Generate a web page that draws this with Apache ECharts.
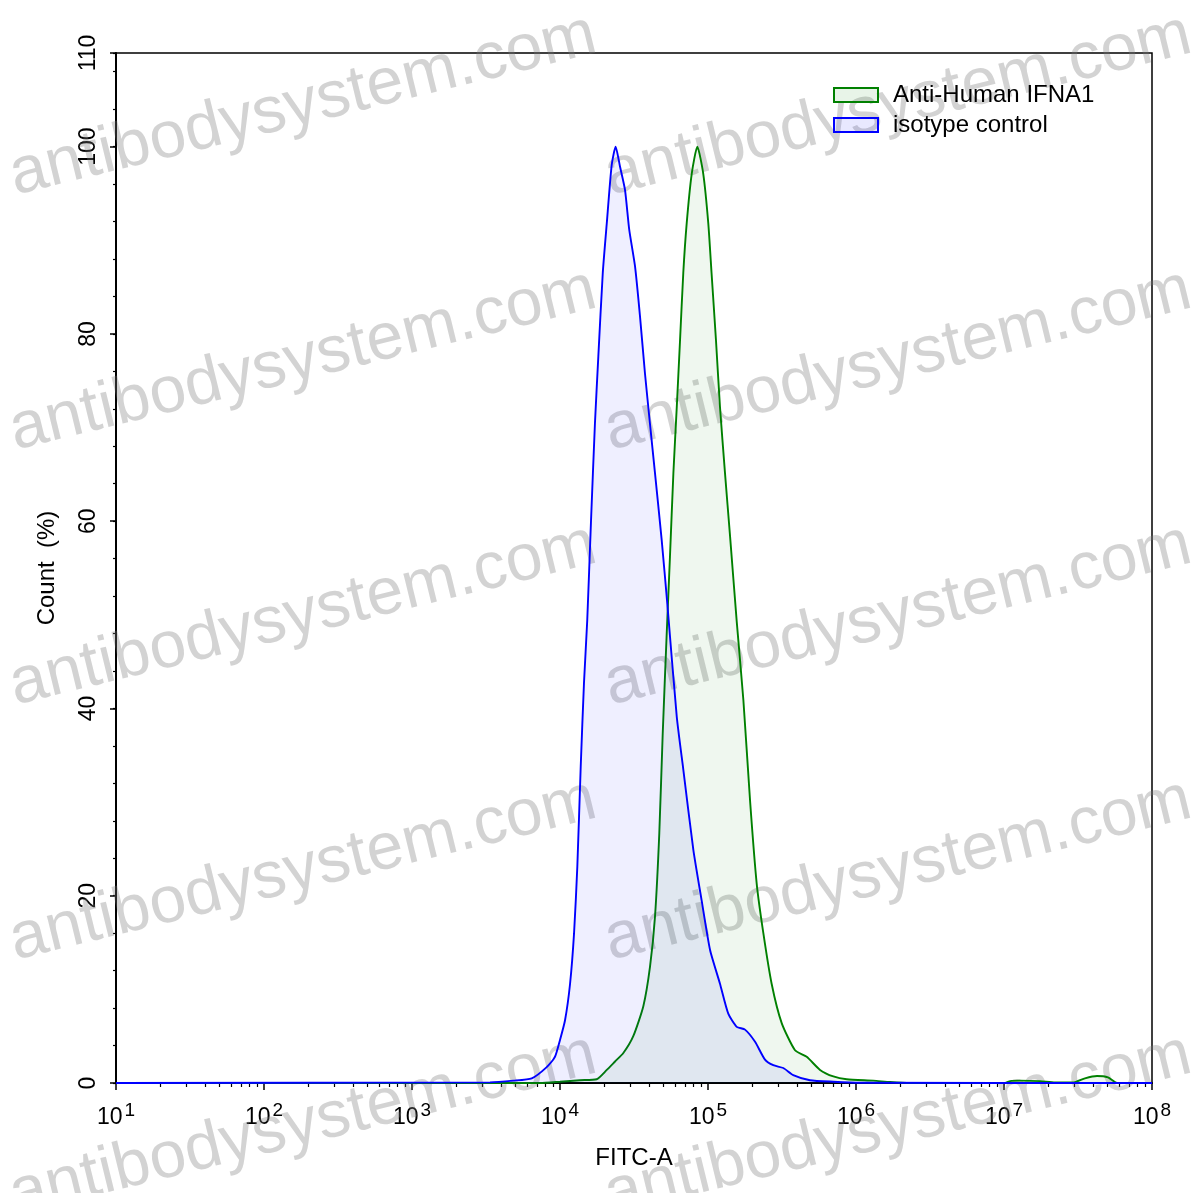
<!DOCTYPE html>
<html>
<head>
<meta charset="utf-8">
<script src="https://cdn.jsdelivr.net/npm/echarts@6/dist/echarts.min.js"></script>
<style>
html,body{margin:0;padding:0;background:#fff;}
#chart{width:1197px;height:1193px;}
</style>
</head>
<body>
<div id="chart"></div>
<script>
// FITC-A positions as log10 values (decades), counts in %
var isoLogX = [1.000, 3.527, 3.684, 3.809, 3.910, 3.966, 4.000, 4.034, 4.068, 4.095, 4.117, 4.140, 4.162, 4.184, 4.209, 4.236, 4.259, 4.289, 4.316, 4.349, 4.376, 4.405, 4.439, 4.468, 4.507, 4.541, 4.574, 4.608, 4.642, 4.687, 4.725, 4.789, 4.833, 4.901, 4.957, 5.014, 5.081, 5.137, 5.194, 5.250, 5.318, 5.385, 5.441, 5.509, 5.576, 5.689, 5.847, 6.027, 8.000];
var isoCount = [0, 0.07, 0.25, 0.5, 1.7, 2.8, 4.6, 6.7, 10.6, 16.0, 23.1, 33.8, 42.7, 49.4, 59.8, 70.4, 77.6, 86.5, 91.8, 98.0, 100, 97.9, 95.4, 91.1, 87.2, 81.8, 75.8, 70.4, 65.1, 58.0, 51.2, 39.1, 33.5, 24.9, 19.5, 14.2, 10.6, 7.4, 6.0, 5.7, 4.4, 2.5, 1.9, 1.6, 0.85, 0.3, 0.14, 0.03, 0];

var ifnLogX = [1.000, 3.865, 4.000, 4.135, 4.248, 4.316, 4.372, 4.428, 4.495, 4.563, 4.608, 4.642, 4.671, 4.694, 4.721, 4.743, 4.766, 4.789, 4.811, 4.833, 4.856, 4.890, 4.928, 4.968, 5.002, 5.024, 5.054, 5.081, 5.115, 5.149, 5.194, 5.239, 5.284, 5.329, 5.374, 5.430, 5.498, 5.588, 5.667, 5.757, 5.847, 5.937, 6.117, 6.230, 6.365, 7.007, 7.041, 7.108, 7.243, 7.345, 7.466, 7.547, 7.628, 7.703, 7.764, 8.000];
var ifnCount = [0, 0, 0.14, 0.3, 0.4, 1.4, 2.3, 3.2, 5.0, 8.2, 12.4, 17.8, 26.7, 37.3, 48.0, 56.2, 65.1, 72.2, 79.3, 86.5, 91.8, 97.1, 100, 97.1, 91.8, 86.5, 79.3, 72.2, 65.1, 58.4, 49.3, 40.9, 30.2, 21.3, 16.0, 10.6, 6.4, 3.5, 2.8, 1.4, 0.7, 0.4, 0.25, 0.1, 0, 0, 0.2, 0.25, 0.2, 0.05, 0.05, 0.5, 0.75, 0.6, 0, 0];

var seriesNames = ['Anti-Human IFNA1', 'isotype control'];
var xDecades = [1, 2, 3, 4, 5, 6, 7, 8];
var watermarkText = 'antibodysystem.com';

var FONT = 'Liberation Sans, Arial, sans-serif';

function pairs(xs, ys) { return xs.map(function (x, i) { return [x, ys[i]]; }); }

var minorX = [];
xDecades.forEach(function (d) {
  if (d < 8) for (var k = 2; k <= 9; k++) minorX.push(d + Math.log10(k));
});

var wm = [];
var rowsY = [145, 400, 655, 910, 1165];
var colsX = [3, 598];
rowsY.forEach(function (ry) {
  colsX.forEach(function (cx) {
    wm.push({
      type: 'text', x: cx, y: ry, rotation: 0.24, z: 1, silent: true,
      style: { text: watermarkText, font: '66px ' + FONT, fill: 'rgba(120,120,120,0.33)', align: 'left', verticalAlign: 'top' }
    });
  });
});

var chart = echarts.init(document.getElementById('chart'), null, { renderer: 'canvas' });
chart.setOption({
  animation: false,
  backgroundColor: '#ffffff',
  graphic: wm,
  grid: { left: 116, right: 45, top: 53, bottom: 110, show: true, borderColor: '#000', borderWidth: 1.5, containLabel: false },
  legend: {
    left: 833, top: 83, padding: 0, orient: 'vertical', icon: 'rect', itemWidth: 44, itemHeight: 14, itemGap: 6,
    textStyle: { fontFamily: FONT, fontSize: 24, color: '#000', padding: [0, 0, 0, 10] },
    data: [
      { name: seriesNames[0], itemStyle: { color: 'rgba(0,128,0,0.09)', borderColor: '#008000', borderWidth: 2 } },
      { name: seriesNames[1], itemStyle: { color: 'rgba(0,0,255,0.09)', borderColor: '#0000ff', borderWidth: 2 } }
    ]
  },
  xAxis: [
    {
      type: 'value', min: xDecades[0], max: xDecades[xDecades.length - 1], interval: 1,
      name: 'FITC-A', nameLocation: 'middle', nameGap: 63,
      nameTextStyle: { fontFamily: FONT, fontSize: 24, color: '#000' },
      axisLine: { lineStyle: { color: '#000', width: 2 } },
      axisTick: { show: true, inside: false, length: 7, lineStyle: { color: '#000', width: 1.5 } },
      splitLine: { show: false },
      axisLabel: {
        margin: 18, color: '#000',
        formatter: function (v) { return '{b|10}{s|' + v + '}'; },
        rich: {
          b: { fontFamily: FONT, fontSize: 23, color: '#000', lineHeight: 24 },
          s: { fontFamily: FONT, fontSize: 19, color: '#000', padding: [0, 0, 15, 2] }
        }
      }
    },
    {
      type: 'value', min: xDecades[0], max: xDecades[xDecades.length - 1], position: 'bottom',
      axisLine: { show: false }, axisLabel: { show: false }, splitLine: { show: false },
      axisTick: { show: true, inside: false, length: 4, customValues: minorX, lineStyle: { color: '#000', width: 1.2 } }
    }
  ],
  yAxis: [
    {
      type: 'value', min: 0, max: 110, interval: 20,
      name: 'Count  (%)', nameLocation: 'middle', nameGap: 57,
      nameTextStyle: { fontFamily: FONT, fontSize: 24, color: '#000' },
      axisLine: { show: true, lineStyle: { color: '#000', width: 2 } },
      axisTick: { show: true, inside: false, length: 6, lineStyle: { color: '#000', width: 1.5 } },
      splitLine: { show: false },
      axisLabel: { rotate: 90, margin: 16, fontFamily: FONT, fontSize: 23, color: '#000' }
    },
    {
      type: 'value', min: 0, max: 110, interval: 4, position: 'left',
      axisLine: { show: false }, axisLabel: { show: false }, splitLine: { show: false },
      axisTick: { show: true, inside: false, length: 3, lineStyle: { color: '#000', width: 1.2 } }
    }
  ],
  series: [
    {
      name: seriesNames[0], type: 'line', xAxisIndex: 0, yAxisIndex: 0, z: 3,
      data: pairs(ifnLogX, ifnCount), showSymbol: false, smooth: 0.2,
      lineStyle: { color: '#008000', width: 1.9 }, itemStyle: { color: '#008000' },
      areaStyle: { color: 'rgba(0,128,0,0.09)' }
    },
    {
      name: seriesNames[1], type: 'line', xAxisIndex: 0, yAxisIndex: 0, z: 4,
      data: pairs(isoLogX, isoCount), showSymbol: false, smooth: 0.2,
      lineStyle: { color: '#0000ff', width: 1.9 }, itemStyle: { color: '#0000ff' },
      areaStyle: { color: 'rgba(0,0,255,0.09)' }
    }
  ]
});
</script>
</body>
</html>
